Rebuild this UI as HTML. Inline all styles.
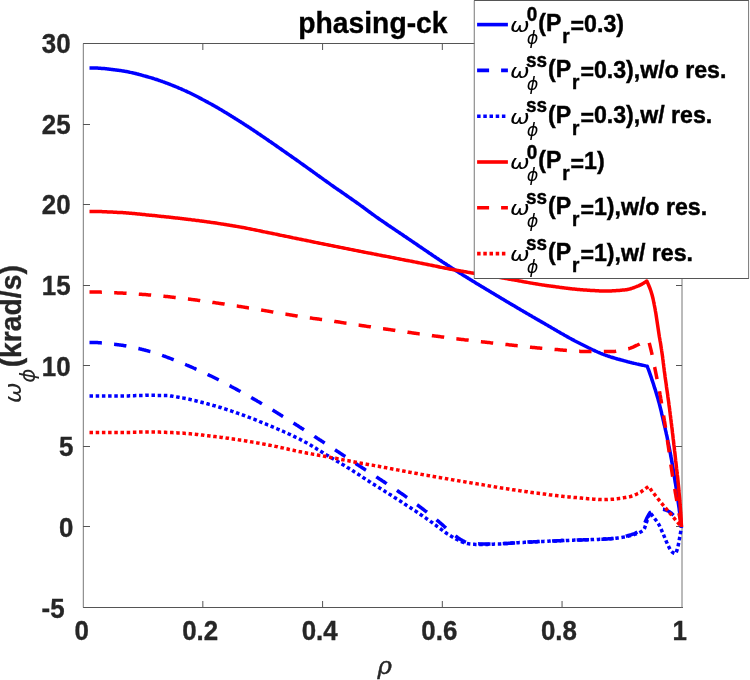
<!DOCTYPE html>
<html><head><meta charset="utf-8"><title>phasing-ck</title>
<style>html,body{margin:0;padding:0;background:#fff}body{width:750px;height:680px;position:relative;overflow:hidden}</style></head>
<body>
<svg width="750" height="680" viewBox="0 0 750 680" style="position:absolute;left:0;top:0">
<rect width="750" height="680" fill="#fff"/>
<g stroke="#555" stroke-width="1" fill="none">
<line x1="82.8" y1="43.5" x2="682.5" y2="43.5" shape-rendering="crispEdges"/><line x1="82.8" y1="607.5" x2="682.5" y2="607.5" shape-rendering="crispEdges"/>
<line x1="83.3" y1="43.5" x2="83.3" y2="607.5" stroke="#777"/><line x1="682.0" y1="43.5" x2="682.0" y2="607.5" stroke="#777"/>
<line x1="202.84" y1="607.5" x2="202.84" y2="601.0"/><line x1="202.84" y1="43.5" x2="202.84" y2="50.0"/>
<line x1="322.58" y1="607.5" x2="322.58" y2="601.0"/><line x1="322.58" y1="43.5" x2="322.58" y2="50.0"/>
<line x1="442.32" y1="607.5" x2="442.32" y2="601.0"/><line x1="442.32" y1="43.5" x2="442.32" y2="50.0"/>
<line x1="562.06" y1="607.5" x2="562.06" y2="601.0"/><line x1="562.06" y1="43.5" x2="562.06" y2="50.0"/>
<line x1="83.3" y1="526.5" x2="89.8" y2="526.5" shape-rendering="crispEdges"/><line x1="682.0" y1="526.5" x2="675.5" y2="526.5" shape-rendering="crispEdges"/>
<line x1="83.3" y1="446.5" x2="89.8" y2="446.5" shape-rendering="crispEdges"/><line x1="682.0" y1="446.5" x2="675.5" y2="446.5" shape-rendering="crispEdges"/>
<line x1="83.3" y1="365.5" x2="89.8" y2="365.5" shape-rendering="crispEdges"/><line x1="682.0" y1="365.5" x2="675.5" y2="365.5" shape-rendering="crispEdges"/>
<line x1="83.3" y1="285.5" x2="89.8" y2="285.5" shape-rendering="crispEdges"/><line x1="682.0" y1="285.5" x2="675.5" y2="285.5" shape-rendering="crispEdges"/>
<line x1="83.3" y1="204.5" x2="89.8" y2="204.5" shape-rendering="crispEdges"/><line x1="682.0" y1="204.5" x2="675.5" y2="204.5" shape-rendering="crispEdges"/>
<line x1="83.3" y1="124.5" x2="89.8" y2="124.5" shape-rendering="crispEdges"/><line x1="682.0" y1="124.5" x2="675.5" y2="124.5" shape-rendering="crispEdges"/>
</g>
<g fill="none" stroke-width="3.5" stroke-linejoin="round">
<path d="M89.5,68.0 L90.5,68.0 L91.5,68.0 L92.5,68.0 L93.5,68.0 L94.5,68.0 L95.5,68.0 L96.5,68.1 L97.5,68.1 L98.5,68.2 L99.5,68.2 L100.5,68.3 L101.5,68.4 L102.5,68.5 L103.5,68.5 L104.5,68.6 L105.5,68.7 L106.5,68.8 L107.5,68.9 L108.5,69.0 L109.5,69.2 L110.5,69.3 L111.5,69.4 L112.5,69.5 L113.5,69.7 L114.5,69.8 L115.5,69.9 L116.5,70.0 L117.5,70.2 L118.5,70.3 L119.5,70.4 L120.0,70.5 L120.5,70.6 L121.5,70.7 L122.5,70.9 L123.5,71.0 L124.5,71.2 L125.5,71.4 L126.5,71.5 L127.5,71.7 L128.5,71.9 L129.5,72.2 L130.5,72.4 L131.5,72.6 L132.5,72.8 L133.5,73.1 L134.5,73.3 L135.5,73.5 L136.5,73.8 L137.5,74.0 L138.5,74.3 L139.5,74.6 L140.5,74.8 L141.5,75.1 L142.5,75.4 L143.5,75.7 L144.5,75.9 L145.5,76.2 L146.5,76.5 L147.5,76.8 L148.5,77.1 L149.5,77.4 L150.0,77.5 L150.5,77.6 L151.5,77.9 L152.5,78.2 L153.5,78.5 L154.5,78.9 L155.5,79.2 L156.5,79.5 L157.5,79.8 L158.5,80.2 L159.5,80.5 L160.5,80.9 L161.5,81.2 L162.5,81.6 L163.5,81.9 L164.5,82.3 L165.5,82.7 L166.5,83.0 L167.5,83.4 L168.5,83.8 L169.5,84.2 L170.5,84.6 L171.5,85.0 L172.5,85.4 L173.5,85.8 L174.5,86.2 L175.5,86.6 L176.5,87.0 L177.5,87.4 L178.5,87.9 L179.5,88.3 L180.0,88.5 L180.5,88.7 L181.5,89.1 L182.5,89.6 L183.5,90.0 L184.5,90.5 L185.5,90.9 L186.5,91.4 L187.5,91.9 L188.5,92.3 L189.5,92.8 L190.5,93.3 L191.5,93.8 L192.5,94.3 L193.5,94.8 L194.5,95.3 L195.5,95.8 L196.5,96.3 L197.5,96.8 L198.5,97.3 L199.5,97.9 L200.5,98.4 L201.5,98.9 L202.5,99.5 L203.5,100.0 L204.5,100.5 L205.5,101.1 L206.5,101.6 L207.5,102.1 L208.5,102.7 L209.5,103.2 L210.0,103.5 L210.5,103.8 L211.5,104.3 L212.5,104.9 L213.5,105.4 L214.5,106.0 L215.5,106.6 L216.5,107.1 L217.5,107.7 L218.5,108.3 L219.5,108.9 L220.5,109.5 L221.5,110.1 L222.5,110.7 L223.5,111.3 L224.5,111.9 L225.5,112.5 L226.5,113.1 L227.5,113.7 L228.5,114.3 L229.5,114.9 L230.5,115.5 L231.5,116.2 L232.5,116.8 L233.5,117.4 L234.5,118.0 L235.5,118.7 L236.5,119.3 L237.5,119.9 L238.5,120.6 L239.5,121.2 L240.0,121.5 L240.5,121.8 L241.5,122.5 L242.5,123.1 L243.5,123.7 L244.5,124.4 L245.5,125.0 L246.5,125.7 L247.5,126.3 L248.5,127.0 L249.5,127.6 L250.5,128.3 L251.5,129.0 L252.5,129.6 L253.5,130.3 L254.5,131.0 L255.5,131.6 L256.5,132.3 L257.5,133.0 L258.5,133.7 L259.5,134.3 L260.5,135.0 L261.5,135.7 L262.5,136.4 L263.5,137.1 L264.5,137.7 L265.5,138.4 L266.5,139.1 L267.5,139.8 L268.5,140.5 L269.5,141.2 L270.0,141.5 L270.5,141.8 L271.5,142.5 L272.5,143.2 L273.5,143.9 L274.5,144.6 L275.5,145.3 L276.5,146.0 L277.5,146.7 L278.5,147.4 L279.5,148.1 L280.5,148.8 L281.5,149.5 L282.5,150.2 L283.5,150.9 L284.5,151.6 L285.5,152.3 L286.5,153.0 L287.5,153.7 L288.5,154.4 L289.5,155.1 L290.5,155.8 L291.5,156.5 L292.5,157.2 L293.5,157.9 L294.5,158.6 L295.5,159.3 L296.5,160.0 L297.5,160.7 L298.5,161.4 L299.5,162.1 L300.0,162.5 L300.5,162.9 L301.5,163.6 L302.5,164.3 L303.5,165.0 L304.5,165.7 L305.5,166.4 L306.5,167.1 L307.5,167.9 L308.5,168.6 L309.5,169.3 L310.5,170.0 L311.5,170.7 L312.5,171.4 L313.5,172.2 L314.5,172.9 L315.5,173.6 L316.5,174.3 L317.5,175.1 L318.5,175.8 L319.5,176.5 L320.5,177.2 L321.5,177.9 L322.5,178.6 L323.5,179.4 L324.5,180.1 L325.5,180.8 L326.5,181.5 L327.5,182.2 L328.5,182.9 L329.5,183.6 L330.0,184.0 L330.5,184.4 L331.5,185.1 L332.5,185.8 L333.5,186.5 L334.5,187.2 L335.5,187.9 L336.5,188.6 L337.5,189.3 L338.5,190.0 L339.5,190.6 L340.5,191.3 L341.5,192.0 L342.5,192.7 L343.5,193.4 L344.5,194.1 L345.5,194.8 L346.5,195.5 L347.5,196.2 L348.5,196.9 L349.5,197.6 L350.5,198.3 L351.5,199.0 L352.5,199.7 L353.5,200.4 L354.5,201.1 L355.5,201.8 L356.5,202.5 L357.5,203.2 L358.5,203.9 L359.5,204.6 L360.0,205.0 L360.5,205.4 L361.5,206.1 L362.5,206.8 L363.5,207.5 L364.5,208.3 L365.5,209.0 L366.5,209.8 L367.5,210.5 L368.5,211.3 L369.5,212.0 L370.5,212.7 L371.5,213.5 L372.5,214.2 L373.5,214.9 L374.5,215.6 L375.0,216.0 L375.5,216.4 L376.5,217.1 L377.5,217.8 L378.5,218.5 L379.5,219.2 L380.5,219.9 L381.5,220.6 L382.5,221.2 L383.5,221.9 L384.5,222.6 L385.5,223.3 L386.5,224.0 L387.5,224.7 L388.5,225.4 L389.5,226.0 L390.5,226.7 L391.5,227.4 L392.5,228.1 L393.5,228.7 L394.5,229.4 L395.5,230.1 L396.5,230.8 L397.5,231.4 L398.5,232.1 L399.5,232.8 L400.5,233.5 L401.5,234.1 L402.5,234.8 L403.5,235.5 L404.5,236.2 L405.0,236.5 L405.5,236.8 L406.5,237.5 L407.5,238.2 L408.5,238.9 L409.5,239.6 L410.5,240.2 L411.5,240.9 L412.5,241.6 L413.5,242.3 L414.5,243.0 L415.5,243.6 L416.5,244.3 L417.5,245.0 L418.5,245.7 L419.5,246.4 L420.5,247.0 L421.5,247.7 L422.5,248.4 L423.5,249.1 L424.5,249.8 L425.5,250.4 L426.5,251.1 L427.5,251.8 L428.5,252.5 L429.5,253.2 L430.5,253.8 L431.5,254.5 L432.5,255.2 L433.5,255.9 L434.5,256.5 L435.5,257.2 L436.5,257.9 L437.5,258.5 L438.5,259.2 L439.5,259.9 L440.5,260.5 L441.5,261.2 L442.5,261.9 L443.5,262.5 L444.5,263.2 L445.5,263.8 L446.5,264.5 L447.5,265.2 L448.5,265.8 L449.5,266.5 L450.5,267.1 L451.5,267.8 L452.5,268.4 L453.5,269.0 L454.5,269.7 L455.0,270.0 L455.5,270.3 L456.5,271.0 L457.5,271.6 L458.5,272.2 L459.5,272.9 L460.5,273.5 L461.5,274.1 L462.5,274.7 L463.5,275.4 L464.5,276.0 L465.5,276.6 L466.5,277.2 L467.5,277.8 L468.5,278.5 L469.5,279.1 L470.5,279.7 L471.5,280.3 L472.5,280.9 L473.5,281.5 L474.5,282.1 L475.5,282.8 L476.5,283.4 L477.5,284.0 L478.5,284.6 L479.5,285.2 L480.5,285.8 L481.5,286.4 L482.5,287.0 L483.5,287.6 L484.5,288.2 L485.5,288.8 L486.5,289.4 L487.5,290.0 L488.5,290.6 L489.5,291.2 L490.5,291.8 L491.5,292.4 L492.5,293.0 L493.5,293.6 L494.5,294.2 L495.5,294.8 L496.5,295.4 L497.5,296.0 L498.5,296.6 L499.5,297.2 L500.0,297.5 L500.5,297.8 L501.5,298.4 L502.5,299.0 L503.5,299.6 L504.5,300.2 L505.5,300.8 L506.5,301.4 L507.5,302.0 L508.5,302.6 L509.5,303.2 L510.5,303.8 L511.5,304.4 L512.5,304.9 L513.5,305.5 L514.5,306.1 L515.5,306.7 L516.5,307.3 L517.5,307.9 L518.5,308.5 L519.5,309.1 L520.5,309.7 L521.5,310.3 L522.5,310.8 L523.5,311.4 L524.5,312.0 L525.5,312.6 L526.5,313.2 L527.5,313.8 L528.5,314.3 L529.5,314.9 L530.5,315.5 L531.5,316.1 L532.5,316.7 L533.5,317.2 L534.5,317.8 L535.5,318.4 L536.5,319.0 L537.5,319.6 L538.5,320.1 L539.5,320.7 L540.0,321.0 L540.5,321.3 L541.5,321.9 L542.5,322.4 L543.5,323.0 L544.5,323.6 L545.5,324.2 L546.5,324.8 L547.5,325.3 L548.5,325.9 L549.5,326.5 L550.5,327.1 L551.5,327.7 L552.5,328.3 L553.5,328.8 L554.5,329.4 L555.5,330.0 L556.5,330.6 L557.5,331.2 L558.5,331.7 L559.5,332.3 L560.5,332.9 L561.5,333.5 L562.5,334.0 L563.5,334.6 L564.5,335.2 L565.5,335.7 L566.5,336.3 L567.5,336.9 L568.5,337.4 L569.5,338.0 L570.5,338.5 L571.5,339.1 L572.5,339.6 L573.5,340.1 L574.5,340.7 L575.5,341.2 L576.5,341.7 L577.5,342.2 L578.5,342.7 L579.5,343.2 L580.0,343.5 L580.5,343.8 L581.5,344.3 L582.5,344.8 L583.5,345.3 L584.5,345.8 L585.5,346.3 L586.5,346.8 L587.5,347.3 L588.5,347.8 L589.5,348.2 L590.5,348.7 L591.5,349.2 L592.5,349.7 L593.5,350.2 L594.5,350.6 L595.5,351.1 L596.5,351.5 L597.5,352.0 L598.5,352.4 L599.5,352.8 L600.5,353.3 L601.5,353.7 L602.5,354.1 L603.5,354.4 L604.5,354.8 L605.0,355.0 L605.5,355.2 L606.5,355.5 L607.5,355.9 L608.5,356.2 L609.5,356.5 L610.5,356.9 L611.5,357.2 L612.5,357.5 L613.5,357.8 L614.5,358.1 L615.5,358.4 L616.5,358.7 L617.5,359.0 L618.5,359.2 L619.5,359.5 L620.5,359.8 L621.5,360.1 L622.5,360.3 L623.5,360.6 L624.5,360.9 L625.0,361.0 L625.5,361.1 L626.5,361.4 L627.5,361.7 L628.5,361.9 L629.5,362.2 L630.5,362.4 L631.5,362.7 L632.5,362.9 L633.5,363.2 L634.5,363.4 L635.5,363.6 L636.5,363.9 L637.5,364.1 L638.5,364.3 L639.5,364.6 L640.5,364.8 L641.5,365.0 L642.5,365.2 L643.5,365.4 L644.5,365.6 L645.5,365.9 L646.5,366.1 L647.2,366.2 L647.9,368.2 L648.7,370.2 L649.4,372.2 L650.1,374.2 L650.8,376.2 L651.5,378.2 L652.1,380.2 L652.8,382.2 L652.9,382.5 L653.5,384.2 L654.1,386.2 L654.7,388.2 L655.4,390.2 L656.0,392.2 L656.6,394.2 L657.2,396.2 L657.8,398.2 L658.3,400.2 L658.7,401.6 L658.9,402.2 L659.4,404.2 L659.9,406.2 L660.4,408.2 L660.9,410.2 L661.4,412.2 L661.8,414.2 L662.3,416.2 L662.8,418.2 L663.2,420.2 L663.7,422.2 L664.1,424.2 L664.2,424.5 L664.6,426.2 L665.1,428.2 L665.5,430.2 L666.0,432.2 L666.4,434.2 L666.9,436.2 L667.3,438.2 L667.7,440.2 L668.1,442.2 L668.2,442.5 L668.5,444.2 L668.9,446.2 L669.3,448.2 L669.7,450.2 L670.1,452.2 L670.5,454.2 L670.8,456.2 L671.2,458.2 L671.6,460.2 L671.9,462.2 L672.0,462.7 L672.3,464.2 L672.6,466.2 L673.0,468.2 L673.3,470.2 L673.6,472.2 L674.0,474.2 L674.3,476.2 L674.6,478.2 L674.9,480.0 L674.9,480.2 L675.2,482.2 L675.6,484.2 L675.9,486.2 L676.2,488.2 L676.5,490.2 L676.8,492.2 L677.1,494.2 L677.4,496.2 L677.7,498.2 L677.9,500.2 L678.2,502.0 L678.2,502.2 L678.5,504.2 L678.8,506.2 L679.1,508.2 L679.3,510.2 L679.6,512.2 L679.9,514.2 L680.1,516.2 L680.4,518.2 L680.6,520.2 L680.9,522.2 L681.2,524.2 L681.4,526.2 L681.5,527.0" stroke="#0000ff"/>
<path d="M89.5,342.5 L90.5,342.5 L91.5,342.5 L92.5,342.5 L93.5,342.5 L94.5,342.5 L95.5,342.5 L96.5,342.6 L97.5,342.6 L98.5,342.7 L99.5,342.7 L100.5,342.8 L101.5,342.9 L102.5,343.0 L103.5,343.0 L104.5,343.1 L105.5,343.2 L106.5,343.3 L107.5,343.4 L108.5,343.6 L109.5,343.7 L110.5,343.8 L111.5,343.9 L112.5,344.0 L113.5,344.2 L114.5,344.3 L115.5,344.4 L116.5,344.5 L117.5,344.7 L118.5,344.8 L119.5,344.9 L120.0,345.0 L120.5,345.1 L121.5,345.2 L122.5,345.3 L123.5,345.5 L124.5,345.7 L125.5,345.8 L126.5,346.0 L127.5,346.2 L128.5,346.4 L129.5,346.6 L130.5,346.8 L131.5,347.0 L132.5,347.2 L133.5,347.4 L134.5,347.6 L135.5,347.8 L136.5,348.1 L137.5,348.3 L138.5,348.5 L139.5,348.8 L140.5,349.0 L141.5,349.3 L142.5,349.5 L143.5,349.8 L144.5,350.0 L145.5,350.3 L146.5,350.6 L147.5,350.8 L148.5,351.1 L149.5,351.4 L150.0,351.5 L150.5,351.6 L151.5,351.9 L152.5,352.2 L153.5,352.5 L154.5,352.8 L155.5,353.1 L156.5,353.4 L157.5,353.8 L158.5,354.1 L159.5,354.4 L160.5,354.8 L161.5,355.1 L162.5,355.5 L163.5,355.9 L164.5,356.2 L165.5,356.6 L166.5,357.0 L167.5,357.4 L168.5,357.8 L169.5,358.1 L170.5,358.5 L171.5,358.9 L172.5,359.3 L173.5,359.7 L174.5,360.1 L175.5,360.5 L176.5,360.9 L177.5,361.3 L178.5,361.7 L179.5,362.1 L180.0,362.3 L180.5,362.5 L181.5,362.9 L182.5,363.3 L183.5,363.7 L184.5,364.1 L185.5,364.5 L186.5,365.0 L187.5,365.4 L188.5,365.8 L189.5,366.2 L190.5,366.7 L191.5,367.1 L192.5,367.5 L193.5,368.0 L194.5,368.4 L195.5,368.9 L196.5,369.3 L197.5,369.8 L198.5,370.2 L199.5,370.7 L200.5,371.1 L201.5,371.6 L202.5,372.1 L203.5,372.5 L204.5,373.0 L205.5,373.5 L206.5,373.9 L207.5,374.4 L208.5,374.9 L209.5,375.4 L210.0,375.6 L210.5,375.8 L211.5,376.3 L212.5,376.8 L213.5,377.3 L214.5,377.8 L215.5,378.3 L216.5,378.8 L217.5,379.3 L218.5,379.8 L219.5,380.3 L220.5,380.8 L221.5,381.4 L222.5,381.9 L223.5,382.4 L224.5,382.9 L225.5,383.5 L226.5,384.0 L227.5,384.5 L228.5,385.1 L229.5,385.6 L230.5,386.1 L231.5,386.7 L232.5,387.2 L233.5,387.8 L234.5,388.3 L235.5,388.8 L236.5,389.4 L237.5,389.9 L238.5,390.5 L239.5,391.0 L240.0,391.3 L240.5,391.6 L241.5,392.1 L242.5,392.7 L243.5,393.2 L244.5,393.8 L245.5,394.3 L246.5,394.9 L247.5,395.5 L248.5,396.0 L249.5,396.6 L250.5,397.1 L251.5,397.7 L252.5,398.3 L253.5,398.9 L254.5,399.4 L255.5,400.0 L256.5,400.6 L257.5,401.2 L258.5,401.7 L259.5,402.3 L260.5,402.9 L261.5,403.5 L262.5,404.1 L263.5,404.6 L264.5,405.2 L265.5,405.8 L266.5,406.4 L267.5,407.0 L268.5,407.6 L269.5,408.2 L270.0,408.5 L270.5,408.8 L271.5,409.4 L272.5,410.0 L273.5,410.6 L274.5,411.2 L275.5,411.8 L276.5,412.4 L277.5,413.1 L278.5,413.7 L279.5,414.3 L280.5,414.9 L281.5,415.5 L282.5,416.2 L283.5,416.8 L284.5,417.4 L285.5,418.0 L286.5,418.7 L287.5,419.3 L288.5,419.9 L289.5,420.5 L290.5,421.2 L291.5,421.8 L292.5,422.4 L293.5,423.1 L294.5,423.7 L295.5,424.3 L296.5,425.0 L297.5,425.6 L298.5,426.2 L299.5,426.9 L300.0,427.2 L300.5,427.5 L301.5,428.2 L302.5,428.8 L303.5,429.4 L304.5,430.1 L305.5,430.7 L306.5,431.3 L307.5,432.0 L308.5,432.6 L309.5,433.2 L310.5,433.9 L311.5,434.5 L312.5,435.2 L313.5,435.8 L314.5,436.5 L315.5,437.1 L316.5,437.7 L317.5,438.4 L318.5,439.0 L319.5,439.7 L320.5,440.3 L321.5,441.0 L322.5,441.6 L323.5,442.3 L324.5,442.9 L325.5,443.6 L326.5,444.2 L327.5,444.9 L328.5,445.5 L329.5,446.2 L330.0,446.5 L330.5,446.8 L331.5,447.5 L332.5,448.1 L333.5,448.8 L334.5,449.4 L335.5,450.1 L336.5,450.8 L337.5,451.4 L338.5,452.1 L339.5,452.7 L340.5,453.4 L341.5,454.1 L342.5,454.7 L343.5,455.4 L344.5,456.1 L345.5,456.7 L346.5,457.4 L347.5,458.1 L348.5,458.7 L349.5,459.4 L350.5,460.0 L351.5,460.7 L352.5,461.4 L353.5,462.0 L354.5,462.7 L355.5,463.3 L356.5,464.0 L357.5,464.7 L358.5,465.3 L359.5,466.0 L360.0,466.3 L360.5,466.6 L361.5,467.3 L362.5,467.9 L363.5,468.6 L364.5,469.2 L365.5,469.9 L366.5,470.5 L367.5,471.1 L368.5,471.8 L369.5,472.4 L370.5,473.1 L371.5,473.7 L372.5,474.4 L373.5,475.0 L374.5,475.7 L375.0,476.0 L375.5,476.3 L376.5,477.0 L377.5,477.6 L378.5,478.3 L379.5,478.9 L380.5,479.6 L381.5,480.2 L382.5,480.9 L383.5,481.5 L384.5,482.2 L385.5,482.9 L386.5,483.5 L387.5,484.2 L388.5,484.8 L389.5,485.5 L390.5,486.1 L391.5,486.8 L392.5,487.5 L393.5,488.1 L394.5,488.8 L395.5,489.5 L396.5,490.1 L397.5,490.8 L398.5,491.5 L399.5,492.2 L400.5,492.9 L401.5,493.6 L402.5,494.2 L403.5,494.9 L404.5,495.6 L405.0,496.0 L405.5,496.4 L406.5,497.1 L407.5,497.8 L408.5,498.5 L409.5,499.2 L410.5,499.9 L411.5,500.6 L412.5,501.4 L413.5,502.1 L414.5,502.8 L415.5,503.6 L416.5,504.3 L417.5,505.0 L418.5,505.8 L419.5,506.5 L420.5,507.3 L421.5,508.0 L422.5,508.8 L423.5,509.5 L424.5,510.3 L425.5,511.1 L426.5,511.8 L427.5,512.6 L428.5,513.4 L429.5,514.2 L430.5,514.9 L431.5,515.7 L432.5,516.5 L433.5,517.3 L434.5,518.1 L435.0,518.5 L435.5,518.9 L436.5,519.7 L437.5,520.6 L438.5,521.4 L439.5,522.3 L440.5,523.1 L441.5,524.0 L442.5,524.9 L443.5,525.8 L444.5,526.7 L445.5,527.6 L446.5,528.5 L447.5,529.3 L448.5,530.2 L449.5,531.1 L450.5,531.9 L451.5,532.7 L452.5,533.6 L453.5,534.4 L454.5,535.1 L455.0,535.5 L455.5,535.9 L456.5,536.6 L457.5,537.4 L458.5,538.1 L459.5,538.8 L460.5,539.4 L461.5,540.0 L462.0,540.3 L462.5,540.6 L463.5,541.1 L464.5,541.6 L465.5,542.0 L466.5,542.4 L467.0,542.5 L467.5,542.6 L468.5,542.8 L469.5,543.0 L470.5,543.2 L471.5,543.3 L472.5,543.5 L473.5,543.6 L474.5,543.7 L475.5,543.7 L476.5,543.8 L476.7,543.8 L477.5,543.8 L478.5,543.8 L479.5,543.9 L480.5,543.9 L481.5,543.9 L482.5,543.9 L483.5,543.9 L484.5,544.0 L485.5,544.0 L486.5,544.0 L487.5,544.0 L488.5,544.0 L489.5,544.0 L490.0,544.0 L490.5,544.0 L491.5,544.0 L492.5,544.0 L493.5,544.0 L494.5,544.0 L495.5,543.9 L496.5,543.9 L497.5,543.9 L498.5,543.8 L499.5,543.8 L500.5,543.8 L501.5,543.7 L502.5,543.7 L503.5,543.6 L504.5,543.6 L505.5,543.5 L506.5,543.4 L507.5,543.4 L508.5,543.3 L509.5,543.3 L510.5,543.2 L511.5,543.1 L512.5,543.1 L513.5,543.0 L514.5,542.9 L515.5,542.9 L516.5,542.8 L517.5,542.7 L518.5,542.7 L519.5,542.6 L520.5,542.5 L521.5,542.5 L522.5,542.4 L523.5,542.4 L524.5,542.3 L525.5,542.2 L526.5,542.2 L527.5,542.1 L528.5,542.1 L529.5,542.0 L530.0,542.0 L530.5,542.0 L531.5,541.9 L532.5,541.9 L533.5,541.8 L534.5,541.8 L535.5,541.8 L536.5,541.7 L537.5,541.7 L538.5,541.6 L539.5,541.6 L540.5,541.5 L541.5,541.5 L542.5,541.4 L543.5,541.4 L544.5,541.4 L545.5,541.3 L546.5,541.3 L547.5,541.2 L548.5,541.2 L549.5,541.1 L550.5,541.1 L551.5,541.1 L552.5,541.0 L553.5,541.0 L554.5,540.9 L555.5,540.9 L556.5,540.9 L557.5,540.8 L558.5,540.8 L559.5,540.7 L560.5,540.7 L561.5,540.6 L562.5,540.6 L563.5,540.6 L564.5,540.5 L565.5,540.5 L566.5,540.4 L567.5,540.4 L568.5,540.4 L569.5,540.3 L570.0,540.3 L570.5,540.3 L571.5,540.2 L572.5,540.2 L573.5,540.2 L574.5,540.1 L575.5,540.1 L576.5,540.1 L577.5,540.0 L578.5,540.0 L579.5,540.0 L580.5,539.9 L581.5,539.9 L582.5,539.9 L583.5,539.8 L584.5,539.8 L585.5,539.8 L586.5,539.8 L587.5,539.7 L588.5,539.7 L589.5,539.7 L590.5,539.6 L591.5,539.6 L592.5,539.6 L593.5,539.5 L594.5,539.5 L595.5,539.5 L596.5,539.4 L597.5,539.4 L598.5,539.3 L599.5,539.3 L600.5,539.2 L601.5,539.2 L602.5,539.2 L603.5,539.1 L604.5,539.0 L605.5,539.0 L606.5,538.9 L607.5,538.9 L608.5,538.8 L609.5,538.7 L610.0,538.7 L610.5,538.7 L611.5,538.6 L612.5,538.5 L613.5,538.4 L614.5,538.3 L615.5,538.1 L616.5,538.0 L617.5,537.9 L618.5,537.7 L619.5,537.5 L620.5,537.4 L621.5,537.2 L622.5,537.0 L623.5,536.8 L624.5,536.5 L625.5,536.3 L626.5,536.0 L627.5,535.8 L628.5,535.5 L629.5,535.2 L630.5,534.9 L631.3,534.7 L631.5,534.6 L632.5,534.3 L633.5,533.9 L634.5,533.5 L635.5,533.0 L636.5,532.4 L637.5,531.8 L638.5,531.1 L639.5,530.3 L640.5,529.4 L641.5,528.5 L642.0,528.0 L642.5,527.4 L643.5,525.7 L644.5,523.6 L645.5,521.2 L646.5,518.9 L647.3,517.3 L647.5,516.9 L648.5,515.1 L649.5,513.4 L650.0,512.6 L651.0,512.1 L652.0,511.6 L653.0,511.2 L654.0,510.8 L655.0,510.5 L656.0,510.2 L657.0,510.0 L658.0,509.8 L659.0,509.6 L660.0,509.5 L661.0,509.3 L662.0,509.3 L662.2,509.3 L663.0,509.3 L664.0,509.5 L665.0,509.8 L666.0,510.2 L667.0,510.6 L668.0,511.0 L669.0,511.5 L670.0,512.2 L671.0,512.9 L672.0,513.8 L673.0,514.7 L673.2,514.9 L674.0,515.7 L675.0,516.9 L676.0,518.2 L677.0,519.6 L678.0,521.0 L679.0,522.6 L680.0,524.2 L681.0,526.1 L681.5,527.0" stroke="#0000ff" stroke-dasharray="12.4 12.3"/>
<path d="M89.5,396.0 L90.5,396.0 L91.5,396.0 L92.5,396.0 L93.5,396.0 L94.5,396.0 L95.5,396.0 L96.5,396.0 L97.5,396.0 L98.5,396.0 L99.5,396.0 L100.5,396.0 L101.5,396.0 L102.5,396.0 L103.5,396.0 L104.5,396.0 L105.5,396.0 L106.5,396.0 L107.5,396.0 L108.5,396.0 L109.5,396.0 L110.5,396.0 L111.5,396.0 L112.5,396.0 L113.5,396.0 L114.5,396.0 L115.5,396.0 L116.5,396.0 L117.5,396.0 L118.5,396.0 L119.5,396.0 L120.0,396.0 L120.5,396.0 L121.5,396.0 L122.5,396.0 L123.5,396.0 L124.5,396.0 L125.5,395.9 L126.5,395.9 L127.5,395.9 L128.5,395.9 L129.5,395.8 L130.5,395.8 L131.5,395.8 L132.5,395.7 L133.5,395.7 L134.5,395.7 L135.5,395.6 L136.5,395.6 L137.5,395.6 L138.5,395.5 L139.5,395.5 L140.5,395.5 L141.5,395.4 L142.5,395.4 L143.5,395.4 L144.5,395.4 L145.5,395.3 L146.5,395.3 L147.5,395.3 L148.5,395.3 L149.5,395.3 L150.0,395.3 L150.5,395.3 L151.5,395.3 L152.5,395.3 L153.5,395.3 L154.5,395.3 L155.5,395.3 L156.5,395.3 L157.5,395.4 L158.5,395.4 L159.5,395.4 L160.5,395.4 L161.5,395.4 L162.5,395.4 L163.5,395.5 L164.5,395.5 L165.0,395.5 L165.5,395.5 L166.5,395.6 L167.5,395.6 L168.5,395.7 L169.5,395.8 L170.5,396.0 L171.5,396.1 L172.5,396.2 L173.5,396.4 L174.5,396.6 L175.5,396.7 L176.5,396.9 L177.5,397.1 L178.5,397.2 L179.5,397.4 L180.0,397.5 L180.5,397.6 L181.5,397.8 L182.5,397.9 L183.5,398.1 L184.5,398.3 L185.5,398.5 L186.5,398.7 L187.5,398.9 L188.5,399.1 L189.5,399.3 L190.5,399.6 L191.5,399.8 L192.5,400.0 L193.5,400.3 L194.5,400.5 L195.5,400.7 L196.5,401.0 L197.5,401.2 L198.5,401.5 L199.5,401.7 L200.5,402.0 L201.5,402.2 L202.5,402.5 L203.5,402.8 L204.5,403.0 L205.5,403.3 L206.5,403.6 L207.5,403.8 L208.5,404.1 L209.5,404.4 L210.0,404.5 L210.5,404.6 L211.5,404.9 L212.5,405.2 L213.5,405.5 L214.5,405.7 L215.5,406.0 L216.5,406.3 L217.5,406.6 L218.5,406.9 L219.5,407.2 L220.5,407.5 L221.5,407.8 L222.5,408.2 L223.5,408.5 L224.5,408.8 L225.5,409.1 L226.5,409.4 L227.5,409.8 L228.5,410.1 L229.5,410.4 L230.5,410.7 L231.5,411.1 L232.5,411.4 L233.5,411.8 L234.5,412.1 L235.5,412.4 L236.5,412.8 L237.5,413.1 L238.5,413.5 L239.5,413.8 L240.0,414.0 L240.5,414.2 L241.5,414.5 L242.5,414.9 L243.5,415.3 L244.5,415.6 L245.5,416.0 L246.5,416.4 L247.5,416.7 L248.5,417.1 L249.5,417.5 L250.5,417.9 L251.5,418.3 L252.5,418.7 L253.5,419.0 L254.5,419.4 L255.5,419.8 L256.5,420.2 L257.5,420.6 L258.5,421.0 L259.5,421.5 L260.5,421.9 L261.5,422.3 L262.5,422.7 L263.5,423.1 L264.5,423.5 L265.5,423.9 L266.5,424.3 L267.5,424.8 L268.5,425.2 L269.5,425.6 L270.0,425.8 L270.5,426.0 L271.5,426.4 L272.5,426.8 L273.5,427.3 L274.5,427.7 L275.5,428.1 L276.5,428.5 L277.5,429.0 L278.5,429.4 L279.5,429.8 L280.5,430.2 L281.5,430.7 L282.5,431.1 L283.5,431.5 L284.5,432.0 L285.5,432.4 L286.5,432.9 L287.5,433.3 L288.5,433.8 L289.5,434.2 L290.5,434.7 L291.5,435.2 L292.5,435.6 L293.5,436.1 L294.5,436.6 L295.5,437.1 L296.5,437.5 L297.5,438.0 L298.5,438.5 L299.5,439.0 L300.0,439.3 L300.5,439.6 L301.5,440.1 L302.5,440.6 L303.5,441.1 L304.5,441.7 L305.5,442.2 L306.5,442.8 L307.5,443.4 L308.5,444.0 L309.5,444.5 L310.5,445.1 L311.5,445.7 L312.5,446.3 L313.5,446.9 L314.5,447.5 L315.5,448.1 L316.5,448.7 L317.5,449.4 L318.5,450.0 L319.5,450.6 L320.5,451.2 L321.5,451.8 L322.5,452.4 L323.5,453.1 L324.5,453.7 L325.5,454.3 L326.5,454.9 L327.5,455.5 L328.5,456.1 L329.5,456.7 L330.0,457.0 L330.5,457.3 L331.5,457.9 L332.5,458.5 L333.5,459.1 L334.5,459.7 L335.5,460.3 L336.5,460.9 L337.5,461.4 L338.5,462.0 L339.5,462.6 L340.5,463.2 L341.5,463.8 L342.5,464.4 L343.5,465.0 L344.5,465.6 L345.5,466.2 L346.5,466.8 L347.5,467.5 L348.5,468.1 L349.5,468.7 L350.0,469.0 L350.5,469.3 L351.5,469.9 L352.5,470.6 L353.5,471.2 L354.5,471.9 L355.5,472.5 L356.5,473.2 L357.5,473.8 L358.5,474.5 L359.5,475.1 L360.5,475.8 L361.5,476.5 L362.5,477.1 L363.5,477.8 L364.5,478.4 L365.5,479.1 L366.5,479.7 L367.5,480.4 L368.5,481.0 L369.5,481.7 L370.0,482.0 L370.5,482.3 L371.5,483.0 L372.5,483.6 L373.5,484.2 L374.5,484.8 L375.5,485.5 L376.5,486.1 L377.5,486.7 L378.5,487.3 L379.5,487.9 L380.5,488.6 L381.5,489.2 L382.5,489.8 L383.5,490.4 L384.5,491.0 L385.5,491.7 L386.5,492.3 L387.5,492.9 L388.5,493.5 L389.5,494.2 L390.0,494.5 L390.5,494.8 L391.5,495.5 L392.5,496.1 L393.5,496.7 L394.5,497.4 L395.5,498.0 L396.5,498.7 L397.5,499.3 L398.5,500.0 L399.5,500.6 L400.5,501.3 L401.5,501.9 L402.5,502.6 L403.5,503.2 L404.5,503.9 L405.5,504.5 L406.5,505.2 L407.5,505.8 L408.5,506.5 L409.5,507.2 L410.0,507.5 L410.5,507.8 L411.5,508.5 L412.5,509.2 L413.5,509.8 L414.5,510.5 L415.5,511.1 L416.5,511.8 L417.5,512.5 L418.5,513.2 L419.5,513.8 L420.5,514.5 L421.5,515.2 L422.5,515.8 L423.5,516.5 L424.5,517.2 L425.5,517.9 L426.5,518.6 L427.5,519.3 L428.5,520.0 L429.5,520.7 L430.0,521.0 L430.5,521.4 L431.5,522.1 L432.5,522.8 L433.5,523.5 L434.5,524.3 L435.5,525.0 L436.5,525.8 L437.5,526.6 L438.5,527.3 L439.5,528.1 L440.5,528.8 L441.5,529.6 L442.5,530.3 L443.5,531.1 L444.5,531.8 L445.5,532.5 L446.5,533.2 L447.5,533.9 L448.5,534.5 L449.5,535.2 L450.0,535.5 L450.5,535.8 L451.5,536.4 L452.5,537.0 L453.5,537.6 L454.5,538.2 L455.5,538.7 L456.5,539.3 L457.5,539.8 L458.5,540.3 L459.5,540.8 L460.0,541.0 L460.5,541.2 L461.5,541.7 L462.5,542.1 L463.5,542.5 L464.5,542.9 L465.5,543.2 L466.0,543.3 L466.5,543.4 L467.5,543.6 L468.5,543.7 L469.5,543.9 L470.5,544.0 L471.5,544.1 L472.5,544.2 L473.0,544.2 L473.5,544.2 L474.5,544.3 L475.5,544.4 L476.5,544.4 L477.5,544.4 L478.5,544.5 L479.5,544.5 L480.0,544.5 L480.5,544.5 L481.5,544.5 L482.5,544.5 L483.5,544.5 L484.5,544.4 L485.5,544.4 L486.5,544.4 L487.5,544.4 L488.5,544.3 L489.5,544.3 L490.0,544.3 L490.5,544.3 L491.5,544.3 L492.5,544.2 L493.5,544.2 L494.5,544.1 L495.5,544.1 L496.5,544.1 L497.5,544.0 L498.5,544.0 L499.5,543.9 L500.5,543.9 L501.5,543.8 L502.5,543.7 L503.5,543.7 L504.5,543.6 L505.5,543.6 L506.5,543.5 L507.5,543.4 L508.5,543.4 L509.5,543.3 L510.5,543.2 L511.5,543.2 L512.5,543.1 L513.5,543.0 L514.5,543.0 L515.5,542.9 L516.5,542.8 L517.5,542.7 L518.5,542.7 L519.5,542.6 L520.5,542.6 L521.5,542.5 L522.5,542.4 L523.5,542.4 L524.5,542.3 L525.5,542.2 L526.5,542.2 L527.5,542.1 L528.5,542.1 L529.5,542.0 L530.0,542.0 L530.5,542.0 L531.5,541.9 L532.5,541.9 L533.5,541.8 L534.5,541.8 L535.5,541.7 L536.5,541.7 L537.5,541.6 L538.5,541.6 L539.5,541.6 L540.5,541.5 L541.5,541.5 L542.5,541.4 L543.5,541.4 L544.5,541.3 L545.5,541.3 L546.5,541.3 L547.5,541.2 L548.5,541.2 L549.5,541.1 L550.5,541.1 L551.5,541.0 L552.5,541.0 L553.5,541.0 L554.5,540.9 L555.5,540.9 L556.5,540.8 L557.5,540.8 L558.5,540.8 L559.5,540.7 L560.5,540.7 L561.5,540.6 L562.5,540.6 L563.5,540.6 L564.5,540.5 L565.5,540.5 L566.5,540.4 L567.5,540.4 L568.5,540.4 L569.5,540.3 L570.0,540.3 L570.5,540.3 L571.5,540.2 L572.5,540.2 L573.5,540.2 L574.5,540.1 L575.5,540.1 L576.5,540.1 L577.5,540.0 L578.5,540.0 L579.5,540.0 L580.5,539.9 L581.5,539.9 L582.5,539.9 L583.5,539.9 L584.5,539.8 L585.5,539.8 L586.5,539.8 L587.5,539.7 L588.5,539.7 L589.5,539.7 L590.5,539.7 L591.5,539.6 L592.5,539.6 L593.5,539.6 L594.5,539.5 L595.5,539.5 L596.5,539.5 L597.5,539.4 L598.5,539.4 L599.5,539.3 L600.5,539.3 L601.5,539.3 L602.5,539.2 L603.5,539.2 L604.5,539.1 L605.5,539.1 L606.5,539.0 L607.5,539.0 L608.5,538.9 L609.5,538.8 L610.0,538.8 L610.5,538.8 L611.5,538.7 L612.5,538.6 L613.5,538.5 L614.5,538.4 L615.5,538.3 L616.5,538.2 L617.5,538.0 L618.5,537.9 L619.5,537.8 L620.5,537.6 L621.5,537.4 L622.5,537.3 L623.5,537.1 L624.5,536.9 L624.7,536.9 L625.5,536.8 L626.5,536.6 L627.5,536.4 L628.5,536.1 L629.5,535.9 L630.5,535.6 L631.5,535.4 L632.5,535.1 L633.5,534.8 L634.5,534.4 L635.5,534.1 L636.5,533.7 L637.5,533.4 L637.9,533.2 L638.5,533.0 L639.5,532.5 L640.5,532.1 L641.5,531.5 L642.5,530.8 L643.5,529.9 L643.8,529.6 L644.5,528.4 L645.5,525.5 L646.5,522.4 L646.8,521.5 L647.5,519.6 L648.5,516.8 L649.5,514.0 L650.0,512.6 L651.0,513.8 L652.0,515.1 L653.0,516.4 L654.0,517.7 L654.1,517.8 L655.0,519.0 L656.0,520.3 L657.0,521.6 L658.0,523.1 L658.5,523.9 L659.0,524.8 L660.0,526.7 L661.0,528.9 L662.0,531.2 L662.9,533.2 L663.0,533.4 L664.0,535.8 L665.0,538.3 L666.0,540.8 L667.0,543.1 L667.9,545.0 L668.0,545.2 L669.0,547.2 L670.0,549.1 L671.0,550.7 L671.8,551.6 L672.0,551.8 L673.0,552.6 L674.0,553.3 L675.0,553.7 L675.3,553.7 L676.0,553.0 L677.0,550.2 L678.0,546.5 L679.0,541.5 L679.9,536.2 L680.0,535.6 L681.0,529.9 L681.5,527.0" stroke="#0000ff" stroke-dasharray="3.5 2.7"/>
<path d="M89.5,211.5 L90.5,211.5 L91.5,211.5 L92.5,211.5 L93.5,211.5 L94.5,211.5 L95.5,211.5 L96.5,211.5 L97.5,211.5 L98.5,211.6 L99.5,211.6 L100.5,211.6 L101.5,211.6 L102.5,211.7 L103.5,211.7 L104.5,211.8 L105.5,211.8 L106.5,211.8 L107.5,211.9 L108.5,211.9 L109.5,212.0 L110.5,212.0 L111.5,212.1 L112.5,212.1 L113.5,212.2 L114.5,212.2 L115.5,212.3 L116.5,212.3 L117.5,212.4 L118.5,212.4 L119.5,212.5 L120.0,212.5 L120.5,212.5 L121.5,212.6 L122.5,212.6 L123.5,212.7 L124.5,212.8 L125.5,212.8 L126.5,212.9 L127.5,213.0 L128.5,213.1 L129.5,213.2 L130.5,213.3 L131.5,213.3 L132.5,213.4 L133.5,213.5 L134.5,213.6 L135.5,213.7 L136.5,213.8 L137.5,213.9 L138.5,214.0 L139.5,214.1 L140.5,214.2 L141.5,214.3 L142.5,214.4 L143.5,214.5 L144.5,214.6 L145.5,214.7 L146.5,214.9 L147.5,215.0 L148.5,215.1 L149.5,215.2 L150.0,215.2 L150.5,215.2 L151.5,215.3 L152.5,215.4 L153.5,215.5 L154.5,215.6 L155.5,215.7 L156.5,215.8 L157.5,215.9 L158.5,216.1 L159.5,216.2 L160.5,216.3 L161.5,216.4 L162.5,216.5 L163.5,216.6 L164.5,216.7 L165.5,216.8 L166.5,216.9 L167.5,217.0 L168.5,217.1 L169.5,217.2 L170.5,217.3 L171.5,217.4 L172.5,217.5 L173.5,217.7 L174.5,217.8 L175.5,217.9 L176.5,218.0 L177.5,218.1 L178.5,218.2 L179.5,218.3 L180.0,218.4 L180.5,218.5 L181.5,218.6 L182.5,218.7 L183.5,218.8 L184.5,218.9 L185.5,219.0 L186.5,219.2 L187.5,219.3 L188.5,219.4 L189.5,219.5 L190.5,219.6 L191.5,219.8 L192.5,219.9 L193.5,220.0 L194.5,220.1 L195.5,220.3 L196.5,220.4 L197.5,220.5 L198.5,220.6 L199.5,220.8 L200.5,220.9 L201.5,221.0 L202.5,221.2 L203.5,221.3 L204.5,221.4 L205.5,221.6 L206.5,221.7 L207.5,221.9 L208.5,222.0 L209.5,222.1 L210.0,222.2 L210.5,222.3 L211.5,222.4 L212.5,222.6 L213.5,222.7 L214.5,222.8 L215.5,223.0 L216.5,223.1 L217.5,223.3 L218.5,223.4 L219.5,223.6 L220.5,223.8 L221.5,223.9 L222.5,224.1 L223.5,224.2 L224.5,224.4 L225.5,224.5 L226.5,224.7 L227.5,224.9 L228.5,225.0 L229.5,225.2 L230.5,225.4 L231.5,225.5 L232.5,225.7 L233.5,225.9 L234.5,226.0 L235.5,226.2 L236.5,226.4 L237.5,226.6 L238.5,226.7 L239.5,226.9 L240.0,227.0 L240.5,227.1 L241.5,227.3 L242.5,227.5 L243.5,227.6 L244.5,227.8 L245.5,228.0 L246.5,228.2 L247.5,228.4 L248.5,228.6 L249.5,228.8 L250.5,229.0 L251.5,229.2 L252.5,229.4 L253.5,229.6 L254.5,229.8 L255.5,230.0 L256.5,230.2 L257.5,230.4 L258.5,230.6 L259.5,230.8 L260.5,231.0 L261.5,231.2 L262.5,231.5 L263.5,231.7 L264.5,231.9 L265.5,232.1 L266.5,232.3 L267.5,232.5 L268.5,232.7 L269.5,232.9 L270.0,233.0 L270.5,233.1 L271.5,233.3 L272.5,233.5 L273.5,233.7 L274.5,233.9 L275.5,234.1 L276.5,234.3 L277.5,234.5 L278.5,234.7 L279.5,235.0 L280.5,235.2 L281.5,235.4 L282.5,235.6 L283.5,235.8 L284.5,236.0 L285.5,236.2 L286.5,236.4 L287.5,236.6 L288.5,236.8 L289.5,237.0 L290.5,237.2 L291.5,237.4 L292.5,237.7 L293.5,237.9 L294.5,238.1 L295.5,238.3 L296.5,238.5 L297.5,238.7 L298.5,238.9 L299.5,239.1 L300.0,239.2 L300.5,239.3 L301.5,239.5 L302.5,239.7 L303.5,239.9 L304.5,240.1 L305.5,240.3 L306.5,240.5 L307.5,240.7 L308.5,240.9 L309.5,241.1 L310.5,241.3 L311.5,241.6 L312.5,241.8 L313.5,242.0 L314.5,242.2 L315.5,242.4 L316.5,242.6 L317.5,242.8 L318.5,243.0 L319.5,243.2 L320.5,243.4 L321.5,243.6 L322.5,243.8 L323.5,244.0 L324.5,244.2 L325.5,244.4 L326.5,244.6 L327.5,244.8 L328.5,245.0 L329.5,245.2 L330.0,245.3 L330.5,245.4 L331.5,245.6 L332.5,245.8 L333.5,246.0 L334.5,246.2 L335.5,246.4 L336.5,246.6 L337.5,246.8 L338.5,247.0 L339.5,247.2 L340.5,247.4 L341.5,247.6 L342.5,247.8 L343.5,248.0 L344.5,248.2 L345.5,248.4 L346.5,248.6 L347.5,248.8 L348.5,249.0 L349.5,249.2 L350.5,249.4 L351.5,249.6 L352.5,249.8 L353.5,250.0 L354.5,250.2 L355.5,250.4 L356.5,250.6 L357.5,250.8 L358.5,251.0 L359.5,251.2 L360.0,251.3 L360.5,251.4 L361.5,251.6 L362.5,251.8 L363.5,252.0 L364.5,252.2 L365.5,252.4 L366.5,252.6 L367.5,252.8 L368.5,252.9 L369.5,253.1 L370.5,253.3 L371.5,253.5 L372.5,253.7 L373.5,253.9 L374.5,254.1 L375.0,254.2 L375.5,254.3 L376.5,254.5 L377.5,254.7 L378.5,254.9 L379.5,255.1 L380.5,255.3 L381.5,255.5 L382.5,255.7 L383.5,255.9 L384.5,256.0 L385.5,256.2 L386.5,256.4 L387.5,256.6 L388.5,256.8 L389.5,257.0 L390.5,257.2 L391.5,257.4 L392.5,257.6 L393.5,257.8 L394.5,258.0 L395.5,258.2 L396.5,258.4 L397.5,258.6 L398.5,258.8 L399.5,259.0 L400.5,259.2 L401.5,259.4 L402.5,259.6 L403.5,259.8 L404.5,260.0 L405.5,260.2 L406.5,260.4 L407.5,260.5 L408.5,260.7 L409.5,260.9 L410.5,261.1 L411.5,261.3 L412.5,261.5 L413.5,261.7 L414.5,261.9 L415.5,262.1 L416.5,262.3 L417.5,262.5 L418.5,262.7 L419.5,262.9 L420.5,263.1 L421.5,263.3 L422.5,263.5 L423.5,263.7 L424.5,263.9 L425.0,264.0 L425.5,264.1 L426.5,264.3 L427.5,264.5 L428.5,264.7 L429.5,264.9 L430.5,265.1 L431.5,265.3 L432.5,265.5 L433.5,265.7 L434.5,265.9 L435.5,266.1 L436.5,266.3 L437.5,266.5 L438.5,266.7 L439.5,267.0 L440.5,267.2 L441.5,267.4 L442.5,267.6 L443.5,267.8 L444.5,268.0 L445.5,268.2 L446.5,268.4 L447.5,268.6 L448.5,268.8 L449.5,269.0 L450.5,269.2 L451.5,269.3 L452.5,269.5 L453.5,269.7 L454.5,269.9 L455.0,270.0 L455.5,270.1 L456.5,270.3 L457.5,270.5 L458.5,270.6 L459.5,270.8 L460.5,271.0 L461.5,271.2 L462.5,271.3 L463.5,271.5 L464.5,271.7 L465.5,271.8 L466.5,272.0 L467.5,272.2 L468.5,272.4 L469.5,272.5 L470.5,272.7 L471.5,272.9 L472.5,273.0 L473.5,273.2 L474.5,273.3 L475.5,273.5 L476.5,273.7 L477.5,273.8 L478.5,274.0 L479.5,274.2 L480.5,274.3 L481.5,274.5 L482.5,274.6 L483.5,274.8 L484.5,275.0 L485.5,275.1 L486.5,275.3 L487.5,275.4 L488.5,275.6 L489.5,275.8 L490.5,275.9 L491.5,276.1 L492.5,276.3 L493.5,276.4 L494.5,276.6 L495.5,276.8 L496.5,276.9 L497.5,277.1 L498.5,277.2 L499.5,277.4 L500.0,277.5 L500.5,277.6 L501.5,277.8 L502.5,277.9 L503.5,278.1 L504.5,278.3 L505.5,278.4 L506.5,278.6 L507.5,278.8 L508.5,279.0 L509.5,279.2 L510.5,279.3 L511.5,279.5 L512.5,279.7 L513.5,279.9 L514.5,280.1 L515.5,280.2 L516.5,280.4 L517.5,280.6 L518.5,280.8 L519.5,281.0 L520.5,281.1 L521.5,281.3 L522.5,281.5 L523.5,281.7 L524.5,281.9 L525.5,282.0 L526.5,282.2 L527.5,282.4 L528.5,282.6 L529.5,282.8 L530.5,282.9 L531.5,283.1 L532.5,283.3 L533.5,283.4 L534.5,283.6 L535.5,283.8 L536.5,284.0 L537.5,284.1 L538.5,284.3 L539.5,284.4 L540.5,284.6 L541.5,284.8 L542.5,284.9 L543.5,285.1 L544.5,285.2 L545.5,285.4 L546.5,285.5 L547.5,285.7 L548.5,285.8 L549.5,285.9 L550.0,286.0 L550.5,286.1 L551.5,286.2 L552.5,286.3 L553.5,286.5 L554.5,286.6 L555.5,286.7 L556.5,286.9 L557.5,287.0 L558.5,287.1 L559.5,287.3 L560.5,287.4 L561.5,287.5 L562.5,287.7 L563.5,287.8 L564.5,287.9 L565.5,288.1 L566.5,288.2 L567.5,288.3 L568.5,288.4 L569.5,288.5 L570.5,288.7 L571.5,288.8 L572.5,288.9 L573.5,289.0 L574.5,289.1 L575.5,289.2 L576.5,289.3 L577.5,289.4 L578.5,289.5 L579.5,289.6 L580.5,289.7 L581.5,289.7 L582.5,289.8 L583.5,289.9 L584.5,290.0 L585.0,290.0 L585.5,290.0 L586.5,290.1 L587.5,290.2 L588.5,290.2 L589.5,290.3 L590.5,290.4 L591.5,290.4 L592.5,290.5 L593.5,290.6 L594.5,290.6 L595.5,290.7 L596.5,290.8 L597.5,290.8 L598.5,290.8 L599.5,290.9 L600.5,290.9 L601.5,291.0 L602.5,291.0 L603.5,291.0 L604.5,291.0 L605.0,291.0 L605.5,291.0 L606.5,291.0 L607.5,291.0 L608.5,291.0 L609.5,290.9 L610.5,290.9 L611.5,290.9 L612.5,290.8 L613.5,290.8 L614.5,290.7 L615.5,290.7 L616.5,290.6 L617.5,290.5 L618.5,290.5 L619.5,290.4 L620.5,290.3 L621.5,290.2 L622.5,290.1 L623.5,290.0 L624.5,289.9 L625.0,289.9 L625.5,289.8 L626.5,289.7 L627.5,289.5 L628.5,289.3 L629.5,289.1 L630.5,288.8 L631.5,288.5 L632.5,288.1 L633.5,287.8 L634.5,287.4 L635.5,287.0 L636.5,286.6 L637.5,286.2 L638.5,285.8 L639.4,285.4 L639.5,285.4 L640.5,284.9 L641.5,284.4 L642.5,283.8 L643.5,283.2 L644.5,282.6 L645.5,281.9 L646.5,281.2 L646.8,281.0 L647.7,283.0 L648.6,285.0 L649.4,287.0 L650.2,289.0 L650.9,291.0 L651.2,292.0 L651.5,293.0 L652.1,295.0 L652.6,297.0 L653.1,299.0 L653.5,301.0 L653.9,303.0 L654.1,303.8 L654.3,305.0 L654.7,307.0 L655.1,309.0 L655.4,311.0 L655.8,313.0 L656.1,315.0 L656.4,317.0 L656.7,319.0 L657.0,321.0 L657.3,323.0 L657.6,325.0 L657.9,327.0 L658.2,329.0 L658.5,331.0 L658.8,333.0 L659.1,335.0 L659.3,336.2 L659.4,337.0 L659.8,339.0 L660.1,341.0 L660.5,343.0 L660.8,345.0 L661.1,347.0 L661.4,349.0 L661.6,350.0 L661.7,351.0 L662.0,353.0 L662.3,355.0 L662.6,357.0 L662.8,359.0 L663.1,361.0 L663.3,363.0 L663.6,365.0 L663.8,367.0 L664.1,369.0 L664.2,370.0 L664.3,371.0 L664.6,373.0 L664.9,375.0 L665.1,377.0 L665.4,379.0 L665.7,381.0 L666.0,383.0 L666.3,385.0 L666.5,387.0 L666.8,389.0 L667.1,391.0 L667.4,393.0 L667.7,395.0 L667.9,397.0 L668.2,399.0 L668.5,401.0 L668.8,403.0 L669.0,405.0 L669.3,407.0 L669.6,409.0 L669.8,411.0 L670.1,413.0 L670.1,413.1 L670.3,415.0 L670.6,417.0 L670.8,419.0 L671.1,421.0 L671.3,423.0 L671.6,425.0 L671.8,427.0 L672.1,429.0 L672.3,431.0 L672.5,433.0 L672.8,435.0 L673.0,437.0 L673.2,439.0 L673.5,441.0 L673.7,443.0 L673.9,445.0 L674.0,445.5 L674.2,447.0 L674.4,449.0 L674.6,451.0 L674.9,453.0 L675.1,455.0 L675.3,457.0 L675.5,459.0 L675.7,461.0 L676.0,463.0 L676.2,465.0 L676.4,467.0 L676.6,469.0 L676.9,471.0 L677.0,472.3 L677.1,473.0 L677.3,475.0 L677.6,477.0 L677.8,479.0 L677.9,480.0 L678.0,481.0 L678.2,483.0 L678.4,485.0 L678.6,487.0 L678.8,489.0 L678.9,491.0 L679.1,493.0 L679.3,495.0 L679.5,497.0 L679.7,499.0 L679.8,501.0 L680.0,503.0 L680.1,505.0 L680.3,507.0 L680.4,509.0 L680.6,511.0 L680.7,513.0 L680.9,515.0 L681.0,517.0 L681.1,519.0 L681.2,521.0 L681.3,523.0 L681.4,525.0 L681.5,527.0" stroke="#ff0000"/>
<path d="M89.5,292.0 L90.5,292.0 L91.5,292.0 L92.5,292.0 L93.5,292.0 L94.5,292.0 L95.5,292.0 L96.5,292.0 L97.5,292.1 L98.5,292.1 L99.5,292.1 L100.5,292.1 L101.5,292.2 L102.5,292.2 L103.5,292.2 L104.5,292.3 L105.5,292.3 L106.5,292.3 L107.5,292.4 L108.5,292.4 L109.5,292.5 L110.5,292.5 L111.5,292.6 L112.5,292.6 L113.5,292.7 L114.5,292.7 L115.5,292.8 L116.5,292.8 L117.5,292.9 L118.5,292.9 L119.5,293.0 L120.0,293.0 L120.5,293.0 L121.5,293.1 L122.5,293.1 L123.5,293.2 L124.5,293.2 L125.5,293.3 L126.5,293.3 L127.5,293.4 L128.5,293.5 L129.5,293.5 L130.5,293.6 L131.5,293.6 L132.5,293.7 L133.5,293.8 L134.5,293.8 L135.5,293.9 L136.5,294.0 L137.5,294.0 L138.5,294.1 L139.5,294.2 L140.5,294.3 L141.5,294.3 L142.5,294.4 L143.5,294.5 L144.5,294.6 L145.5,294.6 L146.5,294.7 L147.5,294.8 L148.5,294.9 L149.5,295.0 L150.0,295.0 L150.5,295.0 L151.5,295.1 L152.5,295.2 L153.5,295.3 L154.5,295.4 L155.5,295.5 L156.5,295.6 L157.5,295.6 L158.5,295.7 L159.5,295.8 L160.5,295.9 L161.5,296.0 L162.5,296.1 L163.5,296.2 L164.5,296.3 L165.5,296.4 L166.5,296.5 L167.5,296.6 L168.5,296.7 L169.5,296.8 L170.5,296.9 L171.5,297.1 L172.5,297.2 L173.5,297.3 L174.5,297.4 L175.5,297.5 L176.5,297.6 L177.5,297.7 L178.5,297.8 L179.5,297.9 L180.0,298.0 L180.5,298.1 L181.5,298.2 L182.5,298.3 L183.5,298.4 L184.5,298.5 L185.5,298.7 L186.5,298.8 L187.5,298.9 L188.5,299.0 L189.5,299.2 L190.5,299.3 L191.5,299.4 L192.5,299.6 L193.5,299.7 L194.5,299.8 L195.5,300.0 L196.5,300.1 L197.5,300.2 L198.5,300.4 L199.5,300.5 L200.5,300.7 L201.5,300.8 L202.5,300.9 L203.5,301.1 L204.5,301.2 L205.5,301.4 L206.5,301.5 L207.5,301.6 L208.5,301.8 L209.5,301.9 L210.0,302.0 L210.5,302.1 L211.5,302.2 L212.5,302.4 L213.5,302.5 L214.5,302.6 L215.5,302.8 L216.5,302.9 L217.5,303.1 L218.5,303.2 L219.5,303.4 L220.5,303.5 L221.5,303.7 L222.5,303.8 L223.5,304.0 L224.5,304.1 L225.5,304.3 L226.5,304.4 L227.5,304.6 L228.5,304.7 L229.5,304.9 L230.5,305.0 L231.5,305.2 L232.5,305.3 L233.5,305.5 L234.5,305.6 L235.5,305.8 L236.5,306.0 L237.5,306.1 L238.5,306.3 L239.5,306.4 L240.0,306.5 L240.5,306.6 L241.5,306.7 L242.5,306.9 L243.5,307.1 L244.5,307.2 L245.5,307.4 L246.5,307.5 L247.5,307.7 L248.5,307.9 L249.5,308.0 L250.5,308.2 L251.5,308.4 L252.5,308.5 L253.5,308.7 L254.5,308.9 L255.5,309.1 L256.5,309.2 L257.5,309.4 L258.5,309.6 L259.5,309.7 L260.5,309.9 L261.5,310.1 L262.5,310.2 L263.5,310.4 L264.5,310.6 L265.5,310.7 L266.5,310.9 L267.5,311.1 L268.5,311.2 L269.5,311.4 L270.0,311.5 L270.5,311.6 L271.5,311.8 L272.5,311.9 L273.5,312.1 L274.5,312.3 L275.5,312.4 L276.5,312.6 L277.5,312.8 L278.5,312.9 L279.5,313.1 L280.5,313.3 L281.5,313.5 L282.5,313.6 L283.5,313.8 L284.5,314.0 L285.5,314.1 L286.5,314.3 L287.5,314.5 L288.5,314.6 L289.5,314.8 L290.5,315.0 L291.5,315.1 L292.5,315.3 L293.5,315.5 L294.5,315.6 L295.5,315.8 L296.5,316.0 L297.5,316.1 L298.5,316.3 L299.5,316.4 L300.0,316.5 L300.5,316.6 L301.5,316.7 L302.5,316.9 L303.5,317.0 L304.5,317.2 L305.5,317.3 L306.5,317.5 L307.5,317.6 L308.5,317.7 L309.5,317.9 L310.5,318.0 L311.5,318.1 L312.5,318.3 L313.5,318.4 L314.5,318.6 L315.5,318.7 L316.5,318.8 L317.5,319.0 L318.5,319.1 L319.5,319.2 L320.5,319.4 L321.5,319.5 L322.5,319.6 L323.5,319.8 L324.5,319.9 L325.5,320.1 L326.5,320.2 L327.5,320.3 L328.5,320.5 L329.5,320.6 L330.0,320.7 L330.5,320.8 L331.5,320.9 L332.5,321.1 L333.5,321.2 L334.5,321.4 L335.5,321.5 L336.5,321.7 L337.5,321.8 L338.5,322.0 L339.5,322.1 L340.5,322.3 L341.5,322.4 L342.5,322.6 L343.5,322.8 L344.5,322.9 L345.5,323.1 L346.5,323.2 L347.5,323.4 L348.5,323.5 L349.5,323.7 L350.5,323.8 L351.5,324.0 L352.5,324.2 L353.5,324.3 L354.5,324.5 L355.5,324.6 L356.5,324.8 L357.5,324.9 L358.5,325.1 L359.5,325.2 L360.0,325.3 L360.5,325.4 L361.5,325.5 L362.5,325.7 L363.5,325.8 L364.5,326.0 L365.5,326.1 L366.5,326.3 L367.5,326.4 L368.5,326.6 L369.5,326.7 L370.5,326.8 L371.5,327.0 L372.5,327.1 L373.5,327.3 L374.5,327.4 L375.0,327.5 L375.5,327.6 L376.5,327.7 L377.5,327.9 L378.5,328.0 L379.5,328.1 L380.5,328.3 L381.5,328.4 L382.5,328.6 L383.5,328.7 L384.5,328.9 L385.5,329.0 L386.5,329.2 L387.5,329.3 L388.5,329.4 L389.5,329.6 L390.5,329.7 L391.5,329.9 L392.5,330.0 L393.5,330.2 L394.5,330.3 L395.5,330.5 L396.5,330.6 L397.5,330.7 L398.5,330.9 L399.5,331.0 L400.5,331.2 L401.5,331.3 L402.5,331.5 L403.5,331.6 L404.5,331.7 L405.5,331.9 L406.5,332.0 L407.5,332.2 L408.5,332.3 L409.5,332.5 L410.5,332.6 L411.5,332.7 L412.5,332.9 L413.5,333.0 L414.5,333.2 L415.5,333.3 L416.5,333.4 L417.5,333.6 L418.5,333.7 L419.5,333.9 L420.5,334.0 L421.5,334.1 L422.5,334.3 L423.5,334.4 L424.5,334.6 L425.5,334.7 L426.5,334.8 L427.5,335.0 L428.5,335.1 L429.5,335.3 L430.5,335.4 L431.5,335.5 L432.5,335.7 L433.5,335.8 L434.5,335.9 L435.5,336.1 L436.5,336.2 L437.5,336.3 L438.5,336.5 L439.5,336.6 L440.5,336.7 L441.5,336.9 L442.5,337.0 L443.5,337.1 L444.5,337.3 L445.5,337.4 L446.5,337.5 L447.5,337.6 L448.5,337.8 L449.5,337.9 L450.5,338.0 L451.5,338.2 L452.5,338.3 L453.5,338.4 L454.5,338.5 L455.0,338.6 L455.5,338.7 L456.5,338.8 L457.5,338.9 L458.5,339.0 L459.5,339.2 L460.5,339.3 L461.5,339.4 L462.5,339.5 L463.5,339.6 L464.5,339.8 L465.5,339.9 L466.5,340.0 L467.5,340.1 L468.5,340.2 L469.5,340.4 L470.5,340.5 L471.5,340.6 L472.5,340.7 L473.5,340.8 L474.5,340.9 L475.5,341.1 L476.5,341.2 L477.5,341.3 L478.5,341.4 L479.5,341.5 L480.5,341.6 L481.5,341.7 L482.5,341.9 L483.5,342.0 L484.5,342.1 L485.5,342.2 L486.5,342.3 L487.5,342.4 L488.5,342.5 L489.5,342.6 L490.5,342.8 L491.5,342.9 L492.5,343.0 L493.5,343.1 L494.5,343.2 L495.5,343.3 L496.5,343.4 L497.5,343.5 L498.5,343.6 L499.5,343.7 L500.0,343.8 L500.5,343.9 L501.5,344.0 L502.5,344.1 L503.5,344.2 L504.5,344.3 L505.5,344.4 L506.5,344.5 L507.5,344.6 L508.5,344.7 L509.5,344.9 L510.5,345.0 L511.5,345.1 L512.5,345.2 L513.5,345.3 L514.5,345.4 L515.5,345.5 L516.5,345.6 L517.5,345.8 L518.5,345.9 L519.5,346.0 L520.5,346.1 L521.5,346.2 L522.5,346.3 L523.5,346.4 L524.5,346.5 L525.5,346.6 L526.5,346.8 L527.5,346.9 L528.5,347.0 L529.5,347.1 L530.5,347.2 L531.5,347.3 L532.5,347.4 L533.5,347.5 L534.5,347.6 L535.5,347.7 L536.5,347.8 L537.5,347.9 L538.5,348.0 L539.5,348.1 L540.5,348.2 L541.5,348.3 L542.5,348.4 L543.5,348.4 L544.5,348.5 L545.5,348.6 L546.5,348.7 L547.5,348.8 L548.5,348.9 L549.5,349.0 L550.0,349.0 L550.5,349.0 L551.5,349.1 L552.5,349.2 L553.5,349.3 L554.5,349.4 L555.5,349.5 L556.5,349.5 L557.5,349.6 L558.5,349.7 L559.5,349.8 L560.5,349.9 L561.5,350.0 L562.5,350.1 L563.5,350.2 L564.5,350.2 L565.5,350.3 L566.5,350.4 L567.5,350.5 L568.5,350.6 L569.5,350.7 L570.5,350.7 L571.5,350.8 L572.5,350.9 L573.5,351.0 L574.5,351.0 L575.5,351.1 L576.5,351.2 L577.5,351.2 L578.5,351.3 L579.5,351.3 L580.5,351.4 L581.5,351.4 L582.5,351.5 L583.5,351.5 L584.5,351.5 L585.5,351.5 L586.5,351.6 L587.5,351.6 L588.5,351.6 L589.5,351.6 L590.0,351.6 L590.5,351.6 L591.5,351.6 L592.5,351.6 L593.5,351.6 L594.5,351.6 L595.5,351.6 L596.5,351.6 L597.5,351.6 L598.5,351.6 L599.5,351.6 L600.5,351.6 L601.5,351.6 L602.5,351.6 L603.5,351.6 L604.5,351.6 L605.5,351.6 L606.5,351.6 L607.5,351.6 L608.5,351.6 L609.5,351.6 L610.0,351.6 L610.5,351.6 L611.5,351.6 L612.5,351.5 L613.5,351.5 L614.5,351.4 L615.5,351.3 L616.5,351.1 L617.5,351.0 L618.5,350.8 L619.5,350.6 L620.5,350.5 L621.5,350.3 L622.5,350.0 L623.5,349.8 L624.5,349.6 L625.5,349.4 L626.5,349.1 L627.5,348.9 L628.4,348.7 L628.5,348.7 L629.5,348.4 L630.5,348.1 L631.5,347.7 L632.5,347.3 L633.5,346.9 L634.5,346.4 L635.5,345.9 L636.5,345.4 L637.5,345.0 L638.5,344.5 L639.5,344.1 L640.1,343.8 L640.5,343.6 L641.5,343.2 L642.5,342.8 L643.5,342.4 L644.5,342.0 L645.5,341.5 L646.5,341.1 L647.5,340.7 L648.5,340.3 L649.1,342.3 L649.6,344.3 L650.1,346.3 L650.6,348.3 L651.1,350.3 L651.5,352.0 L651.6,352.3 L652.0,354.3 L652.4,356.3 L652.9,358.3 L653.3,360.3 L653.7,362.3 L654.1,364.3 L654.5,366.3 L654.5,366.5 L654.9,368.3 L655.3,370.3 L655.7,372.3 L656.1,374.3 L656.5,376.3 L656.9,378.3 L657.3,380.3 L657.7,382.3 L658.1,384.3 L658.5,386.3 L658.9,388.3 L659.3,390.3 L659.6,392.0 L659.7,392.3 L660.0,394.3 L660.4,396.3 L660.7,398.3 L661.1,400.3 L661.4,402.3 L661.7,404.3 L662.1,406.3 L662.4,408.3 L662.7,410.3 L663.1,412.3 L663.4,414.3 L663.7,416.3 L664.0,418.3 L664.3,420.3 L664.4,420.7 L664.7,422.3 L665.0,424.3 L665.3,426.3 L665.6,428.3 L665.9,430.3 L666.2,432.3 L666.5,434.3 L666.8,436.3 L667.1,438.3 L667.4,440.3 L667.7,442.3 L668.0,444.3 L668.2,445.5 L668.3,446.3 L668.6,448.3 L668.9,450.3 L669.2,452.3 L669.4,454.3 L669.7,456.3 L670.0,458.3 L670.3,460.3 L670.5,462.3 L670.8,464.3 L671.1,466.3 L671.4,468.3 L671.7,470.3 L672.0,472.3 L672.3,474.3 L672.6,476.3 L673.0,478.3 L673.3,480.3 L673.6,482.3 L674.0,484.3 L674.3,486.3 L674.6,488.3 L675.0,490.3 L675.3,492.3 L675.7,494.3 L676.0,496.3 L676.4,498.3 L676.5,499.0 L676.7,500.3 L677.1,502.3 L677.4,504.3 L677.8,506.3 L678.1,508.3 L678.5,510.3 L678.8,512.3 L679.2,514.3 L679.6,516.3 L679.9,518.3 L680.3,520.3 L680.6,522.3 L681.0,524.3 L681.4,526.3 L681.5,527.0" stroke="#ff0000" stroke-dasharray="12.4 12.3"/>
<path d="M89.5,432.5 L90.5,432.5 L91.5,432.5 L92.5,432.5 L93.5,432.5 L94.5,432.5 L95.5,432.5 L96.5,432.5 L97.5,432.5 L98.5,432.5 L99.5,432.5 L100.5,432.5 L101.5,432.5 L102.5,432.5 L103.5,432.5 L104.5,432.5 L105.5,432.5 L106.5,432.5 L107.5,432.5 L108.5,432.5 L109.5,432.5 L110.5,432.5 L111.5,432.5 L112.5,432.5 L113.5,432.5 L114.5,432.5 L115.5,432.5 L116.5,432.5 L117.5,432.5 L118.5,432.5 L119.5,432.5 L120.0,432.5 L120.5,432.5 L121.5,432.5 L122.5,432.5 L123.5,432.5 L124.5,432.5 L125.5,432.5 L126.5,432.4 L127.5,432.4 L128.5,432.4 L129.5,432.4 L130.5,432.4 L131.5,432.3 L132.5,432.3 L133.5,432.3 L134.5,432.3 L135.5,432.2 L136.5,432.2 L137.5,432.2 L138.5,432.2 L139.5,432.1 L140.5,432.1 L141.5,432.1 L142.5,432.1 L143.5,432.1 L144.5,432.0 L145.5,432.0 L146.5,432.0 L147.5,432.0 L148.5,432.0 L149.5,432.0 L150.0,432.0 L150.5,432.0 L151.5,432.0 L152.5,432.0 L153.5,432.0 L154.5,432.0 L155.5,432.0 L156.5,432.1 L157.5,432.1 L158.5,432.1 L159.5,432.1 L160.5,432.2 L161.5,432.2 L162.5,432.2 L163.5,432.3 L164.5,432.3 L165.5,432.3 L166.5,432.4 L167.5,432.4 L168.5,432.5 L169.5,432.5 L170.5,432.5 L171.5,432.6 L172.5,432.6 L173.5,432.7 L174.5,432.7 L175.5,432.8 L176.5,432.8 L177.5,432.9 L178.5,432.9 L179.5,433.0 L180.0,433.0 L180.5,433.0 L181.5,433.1 L182.5,433.1 L183.5,433.2 L184.5,433.3 L185.5,433.4 L186.5,433.4 L187.5,433.5 L188.5,433.6 L189.5,433.7 L190.5,433.8 L191.5,433.9 L192.5,434.0 L193.5,434.1 L194.5,434.2 L195.5,434.3 L196.5,434.4 L197.5,434.5 L198.5,434.7 L199.5,434.8 L200.5,434.9 L201.5,435.0 L202.5,435.1 L203.5,435.2 L204.5,435.4 L205.5,435.5 L206.5,435.6 L207.5,435.7 L208.5,435.8 L209.5,435.9 L210.0,436.0 L210.5,436.1 L211.5,436.2 L212.5,436.3 L213.5,436.4 L214.5,436.5 L215.5,436.6 L216.5,436.8 L217.5,436.9 L218.5,437.0 L219.5,437.1 L220.5,437.3 L221.5,437.4 L222.5,437.5 L223.5,437.7 L224.5,437.8 L225.5,437.9 L226.5,438.1 L227.5,438.2 L228.5,438.3 L229.5,438.5 L230.5,438.6 L231.5,438.8 L232.5,438.9 L233.5,439.0 L234.5,439.2 L235.5,439.3 L236.5,439.5 L237.5,439.6 L238.5,439.8 L239.5,439.9 L240.0,440.0 L240.5,440.1 L241.5,440.2 L242.5,440.4 L243.5,440.5 L244.5,440.7 L245.5,440.9 L246.5,441.0 L247.5,441.2 L248.5,441.4 L249.5,441.5 L250.5,441.7 L251.5,441.9 L252.5,442.1 L253.5,442.2 L254.5,442.4 L255.5,442.6 L256.5,442.8 L257.5,442.9 L258.5,443.1 L259.5,443.3 L260.5,443.5 L261.5,443.7 L262.5,443.9 L263.5,444.1 L264.5,444.2 L265.5,444.4 L266.5,444.6 L267.5,444.8 L268.5,445.0 L269.5,445.2 L270.0,445.3 L270.5,445.4 L271.5,445.6 L272.5,445.8 L273.5,446.0 L274.5,446.2 L275.5,446.4 L276.5,446.6 L277.5,446.8 L278.5,447.1 L279.5,447.3 L280.5,447.5 L281.5,447.7 L282.5,447.9 L283.5,448.1 L284.5,448.4 L285.5,448.6 L286.5,448.8 L287.5,449.0 L288.5,449.3 L289.5,449.5 L290.5,449.7 L291.5,449.9 L292.5,450.1 L293.5,450.3 L294.5,450.6 L295.5,450.8 L296.5,451.0 L297.5,451.2 L298.5,451.4 L299.5,451.6 L300.0,451.7 L300.5,451.8 L301.5,452.0 L302.5,452.2 L303.5,452.4 L304.5,452.6 L305.5,452.8 L306.5,453.0 L307.5,453.2 L308.5,453.3 L309.5,453.5 L310.5,453.7 L311.5,453.9 L312.5,454.1 L313.5,454.3 L314.5,454.4 L315.5,454.6 L316.5,454.8 L317.5,455.0 L318.5,455.2 L319.5,455.4 L320.5,455.5 L321.5,455.7 L322.5,455.9 L323.5,456.1 L324.5,456.3 L325.5,456.5 L326.5,456.6 L327.5,456.8 L328.5,457.0 L329.5,457.2 L330.0,457.3 L330.5,457.4 L331.5,457.6 L332.5,457.8 L333.5,458.0 L334.5,458.2 L335.5,458.3 L336.5,458.5 L337.5,458.7 L338.5,458.9 L339.5,459.1 L340.5,459.3 L341.5,459.5 L342.5,459.7 L343.5,459.9 L344.5,460.1 L345.5,460.3 L346.5,460.5 L347.5,460.6 L348.5,460.8 L349.5,461.0 L350.5,461.2 L351.5,461.4 L352.5,461.6 L353.5,461.8 L354.5,462.0 L355.5,462.2 L356.5,462.3 L357.5,462.5 L358.5,462.7 L359.5,462.9 L360.0,463.0 L360.5,463.1 L361.5,463.3 L362.5,463.5 L363.5,463.6 L364.5,463.8 L365.5,464.0 L366.5,464.2 L367.5,464.4 L368.5,464.5 L369.5,464.7 L370.5,464.9 L371.5,465.1 L372.5,465.2 L373.5,465.4 L374.5,465.6 L375.0,465.7 L375.5,465.8 L376.5,466.0 L377.5,466.2 L378.5,466.3 L379.5,466.5 L380.5,466.7 L381.5,466.9 L382.5,467.1 L383.5,467.3 L384.5,467.5 L385.5,467.6 L386.5,467.8 L387.5,468.0 L388.5,468.2 L389.5,468.4 L390.5,468.6 L391.5,468.8 L392.5,469.0 L393.5,469.2 L394.5,469.3 L395.5,469.5 L396.5,469.7 L397.5,469.9 L398.5,470.1 L399.5,470.3 L400.5,470.5 L401.5,470.7 L402.5,470.9 L403.5,471.0 L404.5,471.2 L405.5,471.4 L406.5,471.6 L407.5,471.8 L408.5,472.0 L409.5,472.2 L410.5,472.4 L411.5,472.5 L412.5,472.7 L413.5,472.9 L414.5,473.1 L415.5,473.3 L416.5,473.5 L417.5,473.6 L418.5,473.8 L419.5,474.0 L420.5,474.2 L421.5,474.4 L422.5,474.6 L423.5,474.7 L424.5,474.9 L425.0,475.0 L425.5,475.1 L426.5,475.3 L427.5,475.4 L428.5,475.6 L429.5,475.8 L430.5,476.0 L431.5,476.1 L432.5,476.3 L433.5,476.5 L434.5,476.7 L435.5,476.8 L436.5,477.0 L437.5,477.2 L438.5,477.4 L439.5,477.5 L440.5,477.7 L441.5,477.9 L442.5,478.1 L443.5,478.2 L444.5,478.4 L445.5,478.6 L446.5,478.7 L447.5,478.9 L448.5,479.1 L449.5,479.2 L450.5,479.4 L451.5,479.6 L452.5,479.8 L453.5,479.9 L454.5,480.1 L455.5,480.3 L456.5,480.4 L457.5,480.6 L458.5,480.8 L459.5,480.9 L460.5,481.1 L461.5,481.3 L462.5,481.4 L463.5,481.6 L464.5,481.8 L465.5,481.9 L466.5,482.1 L467.5,482.3 L468.5,482.4 L469.5,482.6 L470.5,482.8 L471.5,482.9 L472.5,483.1 L473.5,483.3 L474.5,483.4 L475.0,483.5 L475.5,483.6 L476.5,483.7 L477.5,483.9 L478.5,484.1 L479.5,484.2 L480.5,484.4 L481.5,484.6 L482.5,484.7 L483.5,484.9 L484.5,485.1 L485.5,485.3 L486.5,485.4 L487.5,485.6 L488.5,485.8 L489.5,485.9 L490.5,486.1 L491.5,486.3 L492.5,486.4 L493.5,486.6 L494.5,486.8 L495.5,486.9 L496.5,487.1 L497.5,487.3 L498.5,487.4 L499.5,487.6 L500.5,487.8 L501.5,487.9 L502.5,488.1 L503.5,488.2 L504.5,488.4 L505.5,488.6 L506.5,488.7 L507.5,488.9 L508.5,489.0 L509.5,489.2 L510.5,489.4 L511.5,489.5 L512.5,489.7 L513.5,489.8 L514.5,490.0 L515.5,490.1 L516.5,490.3 L517.5,490.4 L518.5,490.6 L519.5,490.7 L520.5,490.9 L521.5,491.0 L522.5,491.2 L523.5,491.3 L524.5,491.4 L525.0,491.5 L525.5,491.6 L526.5,491.7 L527.5,491.8 L528.5,492.0 L529.5,492.1 L530.5,492.3 L531.5,492.4 L532.5,492.5 L533.5,492.7 L534.5,492.8 L535.5,492.9 L536.5,493.1 L537.5,493.2 L538.5,493.3 L539.5,493.5 L540.5,493.6 L541.5,493.7 L542.5,493.9 L543.5,494.0 L544.5,494.1 L545.5,494.2 L546.5,494.4 L547.5,494.5 L548.5,494.6 L549.5,494.8 L550.5,494.9 L551.5,495.0 L552.5,495.1 L553.5,495.2 L554.5,495.4 L555.5,495.5 L556.5,495.6 L557.5,495.7 L558.5,495.8 L559.5,495.9 L560.5,496.1 L561.5,496.2 L562.5,496.3 L563.5,496.4 L564.5,496.5 L565.5,496.6 L566.5,496.7 L567.5,496.8 L568.5,496.9 L569.5,497.0 L570.5,497.1 L571.5,497.2 L572.5,497.3 L573.5,497.4 L574.5,497.5 L575.0,497.5 L575.5,497.5 L576.5,497.6 L577.5,497.7 L578.5,497.8 L579.5,497.9 L580.5,498.0 L581.5,498.1 L582.5,498.2 L583.5,498.3 L584.5,498.4 L585.5,498.5 L586.5,498.6 L587.5,498.7 L588.5,498.8 L589.5,498.8 L590.5,498.9 L591.5,499.0 L592.5,499.1 L593.5,499.2 L594.5,499.2 L595.5,499.3 L596.5,499.4 L597.5,499.4 L598.5,499.5 L599.5,499.5 L600.5,499.5 L601.5,499.6 L602.5,499.6 L603.5,499.6 L604.5,499.6 L604.7,499.6 L605.5,499.6 L606.5,499.6 L607.5,499.6 L608.5,499.5 L609.5,499.5 L610.5,499.4 L611.5,499.3 L612.5,499.2 L613.5,499.2 L614.5,499.1 L615.5,498.9 L616.5,498.8 L617.5,498.7 L618.5,498.6 L619.5,498.4 L620.5,498.3 L621.5,498.1 L622.5,498.0 L623.5,497.8 L624.5,497.6 L625.5,497.5 L626.5,497.3 L627.5,497.1 L628.5,496.9 L629.1,496.8 L629.5,496.7 L630.5,496.5 L631.5,496.2 L632.5,495.9 L633.5,495.5 L634.5,495.1 L635.5,494.7 L636.5,494.2 L637.5,493.7 L638.5,493.3 L639.4,492.8 L639.5,492.7 L640.5,492.2 L641.5,491.5 L642.5,490.8 L643.5,490.1 L644.5,489.4 L645.0,489.0 L645.5,488.6 L646.5,487.9 L647.5,487.2 L648.5,486.5 L649.5,487.8 L650.5,489.1 L651.5,490.5 L652.5,491.8 L653.5,493.1 L654.5,494.4 L655.5,495.6 L656.5,496.9 L657.5,498.2 L658.5,499.4 L659.5,500.7 L660.0,501.3 L660.5,501.9 L661.5,503.1 L662.5,504.4 L663.5,505.6 L664.5,506.8 L665.5,507.9 L666.5,509.1 L667.5,510.3 L668.5,511.5 L669.5,512.7 L670.5,513.9 L671.5,515.0 L671.8,515.4 L672.5,516.2 L673.5,517.4 L674.5,518.6 L675.5,519.8 L676.5,521.0 L677.5,522.2 L678.5,523.4 L679.5,524.6 L680.5,525.8 L681.5,527.0" stroke="#ff0000" stroke-dasharray="3.5 2.7"/>
</g>
<text transform="translate(81.8,639.7) scale(0.965,1)" text-anchor="middle" font-family="'Liberation Sans', sans-serif" font-weight="bold" font-size="26.8" fill="#262626" stroke="#262626" stroke-width="0.35">0</text>
<text transform="translate(200.1,639.7) scale(0.965,1)" text-anchor="middle" font-family="'Liberation Sans', sans-serif" font-weight="bold" font-size="26.8" fill="#262626" stroke="#262626" stroke-width="0.35">0.2</text>
<text transform="translate(319.7,639.7) scale(0.965,1)" text-anchor="middle" font-family="'Liberation Sans', sans-serif" font-weight="bold" font-size="26.8" fill="#262626" stroke="#262626" stroke-width="0.35">0.4</text>
<text transform="translate(439.3,639.7) scale(0.965,1)" text-anchor="middle" font-family="'Liberation Sans', sans-serif" font-weight="bold" font-size="26.8" fill="#262626" stroke="#262626" stroke-width="0.35">0.6</text>
<text transform="translate(558.9,639.7) scale(0.965,1)" text-anchor="middle" font-family="'Liberation Sans', sans-serif" font-weight="bold" font-size="26.8" fill="#262626" stroke="#262626" stroke-width="0.35">0.8</text>
<text transform="translate(679.8,639.7) scale(0.965,1)" text-anchor="middle" font-family="'Liberation Sans', sans-serif" font-weight="bold" font-size="26.8" fill="#262626" stroke="#262626" stroke-width="0.35">1</text>
<text transform="translate(64.6,617.8) scale(0.965,1)" text-anchor="end" font-family="'Liberation Sans', sans-serif" font-weight="bold" font-size="26.8" fill="#262626" stroke="#262626" stroke-width="0.35">-5</text>
<text transform="translate(73.4,536.6) scale(0.965,1)" text-anchor="end" font-family="'Liberation Sans', sans-serif" font-weight="bold" font-size="26.8" fill="#262626" stroke="#262626" stroke-width="0.35">0</text>
<text transform="translate(73.4,456.1) scale(0.965,1)" text-anchor="end" font-family="'Liberation Sans', sans-serif" font-weight="bold" font-size="26.8" fill="#262626" stroke="#262626" stroke-width="0.35">5</text>
<text transform="translate(70.6,375.5) scale(0.965,1)" text-anchor="end" font-family="'Liberation Sans', sans-serif" font-weight="bold" font-size="26.8" fill="#262626" stroke="#262626" stroke-width="0.35">10</text>
<text transform="translate(70.6,294.9) scale(0.965,1)" text-anchor="end" font-family="'Liberation Sans', sans-serif" font-weight="bold" font-size="26.8" fill="#262626" stroke="#262626" stroke-width="0.35">15</text>
<text transform="translate(70.6,214.3) scale(0.965,1)" text-anchor="end" font-family="'Liberation Sans', sans-serif" font-weight="bold" font-size="26.8" fill="#262626" stroke="#262626" stroke-width="0.35">20</text>
<text transform="translate(70.6,133.8) scale(0.965,1)" text-anchor="end" font-family="'Liberation Sans', sans-serif" font-weight="bold" font-size="26.8" fill="#262626" stroke="#262626" stroke-width="0.35">25</text>
<text transform="translate(70.6,53.2) scale(0.965,1)" text-anchor="end" font-family="'Liberation Sans', sans-serif" font-weight="bold" font-size="26.8" fill="#262626" stroke="#262626" stroke-width="0.35">30</text>
<text transform="translate(372.9,33.0) scale(0.965,1)" text-anchor="middle" font-family="'Liberation Sans', sans-serif" font-weight="bold" font-size="29.3" fill="#000" stroke="#000" stroke-width="0.35">phasing-ck</text>
<text x="384.6" y="673.8" text-anchor="middle" font-family="'DejaVu Serif', serif" font-style="italic" font-size="24.5" fill="#262626" stroke="#262626" stroke-width="0.45">ρ</text>
<g transform="translate(20.7,403.3) rotate(-90)" fill="#262626"><text transform="translate(0,0) scale(0.96,0.885)" font-family="'DejaVu Sans', sans-serif" font-style="italic" font-size="26">ω</text><text transform="translate(20.6,14.5)" font-family="'DejaVu Sans', sans-serif" font-style="italic" font-size="21.5">ϕ</text><text transform="translate(36,0) scale(0.965,1)" font-family="'Liberation Sans', sans-serif" font-weight="bold" font-size="29.3" stroke="#262626" stroke-width="0.35">(krad/s)</text></g>
<rect x="474.5" y="0.5" width="274.0" height="278.0" fill="#fff"/>
<g stroke="#555" stroke-width="1"><line x1="474.0" y1="0.5" x2="749.0" y2="0.5" shape-rendering="crispEdges"/><line x1="474.0" y1="278.5" x2="749.0" y2="278.5" shape-rendering="crispEdges"/><line x1="474.25" y1="0.5" x2="474.25" y2="278.5" stroke="#777"/><line x1="748.6" y1="0.5" x2="748.6" y2="278.5" stroke="#777"/></g>
<line x1="477.1" y1="24.6" x2="507.9" y2="24.6" stroke="#0000ff" stroke-width="3.6"/>
<text transform="translate(510,31.9) scale(1,0.79)" font-family="'DejaVu Sans', sans-serif" font-style="italic" font-size="23.5" fill="#000">ω</text>
<text transform="translate(526.8,21.3) scale(0.98,1)" font-family="'Liberation Sans', sans-serif" font-weight="bold" font-size="19.3" fill="#000" stroke="#000" stroke-width="0.4">0</text>
<text transform="translate(526.7,44.0)" font-family="'DejaVu Sans', sans-serif" font-style="italic" font-size="17.6" fill="#000">ϕ</text>
<text transform="translate(538.2,30.9) scale(0.985,1)" font-family="'Liberation Sans', sans-serif" font-weight="bold" font-size="23.5" fill="#000" stroke="#000" stroke-width="0.45"><tspan>(P</tspan><tspan dy="12" dx="0.9" font-size="19.3">r</tspan><tspan dy="-8.6" dx="1.0">=</tspan><tspan dy="-2.6">0.3)</tspan></text>
<line x1="477.1" y1="70.4" x2="507.9" y2="70.4" stroke="#0000ff" stroke-width="3.6" stroke-dasharray="12 12"/>
<text transform="translate(510,77.7) scale(1,0.79)" font-family="'DejaVu Sans', sans-serif" font-style="italic" font-size="23.5" fill="#000">ω</text>
<text transform="translate(526.0,66.5) scale(0.98,1)" font-family="'Liberation Sans', sans-serif" font-weight="bold" font-size="19.3" fill="#000" stroke="#000" stroke-width="0.4">ss</text>
<text transform="translate(526.7,89.8)" font-family="'DejaVu Sans', sans-serif" font-style="italic" font-size="17.6" fill="#000">ϕ</text>
<text transform="translate(548,76.7) scale(0.985,1)" font-family="'Liberation Sans', sans-serif" font-weight="bold" font-size="23.5" fill="#000" stroke="#000" stroke-width="0.45"><tspan>(P</tspan><tspan dy="12" dx="0.9" font-size="19.3">r</tspan><tspan dy="-8.6" dx="1.0">=</tspan><tspan dy="-2.6">0.3),w/o res.</tspan></text>
<line x1="477.1" y1="116.2" x2="507.9" y2="116.2" stroke="#0000ff" stroke-width="3.6" stroke-dasharray="3.5 2.7"/>
<text transform="translate(510,123.5) scale(1,0.79)" font-family="'DejaVu Sans', sans-serif" font-style="italic" font-size="23.5" fill="#000">ω</text>
<text transform="translate(526.0,112.3) scale(0.98,1)" font-family="'Liberation Sans', sans-serif" font-weight="bold" font-size="19.3" fill="#000" stroke="#000" stroke-width="0.4">ss</text>
<text transform="translate(526.7,135.6)" font-family="'DejaVu Sans', sans-serif" font-style="italic" font-size="17.6" fill="#000">ϕ</text>
<text transform="translate(548,122.5) scale(0.985,1)" font-family="'Liberation Sans', sans-serif" font-weight="bold" font-size="23.5" fill="#000" stroke="#000" stroke-width="0.45"><tspan>(P</tspan><tspan dy="12" dx="0.9" font-size="19.3">r</tspan><tspan dy="-8.6" dx="1.0">=</tspan><tspan dy="-2.6">0.3),w/ res.</tspan></text>
<line x1="477.1" y1="162" x2="507.9" y2="162" stroke="#ff0000" stroke-width="3.6"/>
<text transform="translate(510,169.3) scale(1,0.79)" font-family="'DejaVu Sans', sans-serif" font-style="italic" font-size="23.5" fill="#000">ω</text>
<text transform="translate(526.8,158.7) scale(0.98,1)" font-family="'Liberation Sans', sans-serif" font-weight="bold" font-size="19.3" fill="#000" stroke="#000" stroke-width="0.4">0</text>
<text transform="translate(526.7,181.4)" font-family="'DejaVu Sans', sans-serif" font-style="italic" font-size="17.6" fill="#000">ϕ</text>
<text transform="translate(538.2,168.3) scale(0.985,1)" font-family="'Liberation Sans', sans-serif" font-weight="bold" font-size="23.5" fill="#000" stroke="#000" stroke-width="0.45"><tspan>(P</tspan><tspan dy="12" dx="0.9" font-size="19.3">r</tspan><tspan dy="-8.6" dx="1.0">=</tspan><tspan dy="-2.6">1)</tspan></text>
<line x1="477.1" y1="207.8" x2="507.9" y2="207.8" stroke="#ff0000" stroke-width="3.6" stroke-dasharray="12 12"/>
<text transform="translate(510,215.1) scale(1,0.79)" font-family="'DejaVu Sans', sans-serif" font-style="italic" font-size="23.5" fill="#000">ω</text>
<text transform="translate(526.0,203.9) scale(0.98,1)" font-family="'Liberation Sans', sans-serif" font-weight="bold" font-size="19.3" fill="#000" stroke="#000" stroke-width="0.4">ss</text>
<text transform="translate(526.7,227.2)" font-family="'DejaVu Sans', sans-serif" font-style="italic" font-size="17.6" fill="#000">ϕ</text>
<text transform="translate(548,214.1) scale(0.985,1)" font-family="'Liberation Sans', sans-serif" font-weight="bold" font-size="23.5" fill="#000" stroke="#000" stroke-width="0.45"><tspan>(P</tspan><tspan dy="12" dx="0.9" font-size="19.3">r</tspan><tspan dy="-8.6" dx="1.0">=</tspan><tspan dy="-2.6">1),w/o res.</tspan></text>
<line x1="477.1" y1="253.6" x2="507.9" y2="253.6" stroke="#ff0000" stroke-width="3.6" stroke-dasharray="3.5 2.7"/>
<text transform="translate(510,260.9) scale(1,0.79)" font-family="'DejaVu Sans', sans-serif" font-style="italic" font-size="23.5" fill="#000">ω</text>
<text transform="translate(526.0,249.7) scale(0.98,1)" font-family="'Liberation Sans', sans-serif" font-weight="bold" font-size="19.3" fill="#000" stroke="#000" stroke-width="0.4">ss</text>
<text transform="translate(526.7,273.0)" font-family="'DejaVu Sans', sans-serif" font-style="italic" font-size="17.6" fill="#000">ϕ</text>
<text transform="translate(548,259.9) scale(0.985,1)" font-family="'Liberation Sans', sans-serif" font-weight="bold" font-size="23.5" fill="#000" stroke="#000" stroke-width="0.45"><tspan>(P</tspan><tspan dy="12" dx="0.9" font-size="19.3">r</tspan><tspan dy="-8.6" dx="1.0">=</tspan><tspan dy="-2.6">1),w/ res.</tspan></text>
</svg>
</body></html>
